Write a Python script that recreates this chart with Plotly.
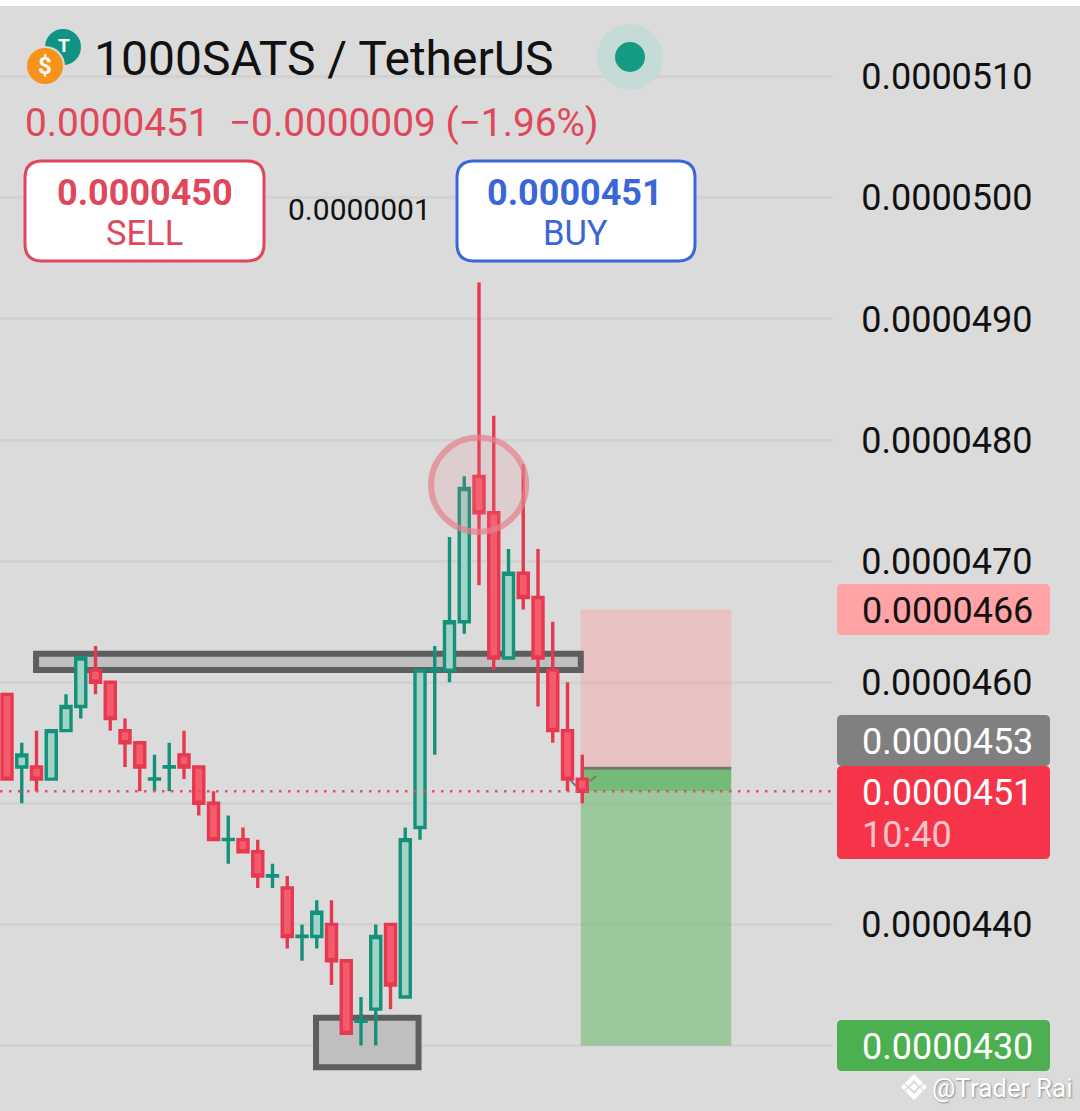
import plotly.graph_objects as go

# Candles, prices in units of 0.0000001 (the tick size), oldest first.
# Doji closes carry +0.02 so that plotly colours them green like the picture.
opens = [459, 453, 453, 452, 456, 458, 461, 460, 456, 455,
         452, 453, 454, 453, 450, 447, 447, 446, 444, 443,
         439, 439, 440, 437, 432, 433, 440, 434, 448, 461,
         461, 465, 477, 474, 462, 469, 467, 461, 456, 452]
highs = [459, 455, 456, 456, 459, 462, 463, 460, 457, 455,
         454, 455, 456, 453, 451, 449, 448, 447, 445, 444,
         440, 442, 442, 437, 434, 440, 440, 448, 461, 463,
         472, 477, 493, 482, 471, 478, 471, 465, 460, 454]
lows = [452, 450, 451, 452, 456, 457, 459, 456, 453, 451,
        451, 451, 452, 449, 447, 445, 446, 443, 443, 438,
        437, 438, 435, 431, 430, 430, 433, 434, 447, 454,
        460, 464, 468, 461, 462, 466, 458, 455, 451, 450]
closes = [452, 454, 452, 456, 458, 462, 460, 457, 455, 453,
          452.02, 453.02, 453, 450, 447, 447.02, 446, 444, 444.02, 439,
          439.02, 441, 437, 431, 432.02, 439, 435, 447, 461, 461.02,
          465, 476, 474, 462, 469, 467, 462, 456, 452, 451]
candle_index = list(range(len(opens)))

# Axis, the 430 label is the green tag further down
tick_values = [510, 500, 490, 480, 470, 460, 450, 440, 430]
tick_labels = ["0.0000510", "0.0000500", "0.0000490", "0.0000480", "0.0000470",
               "0.0000460", "", "0.0000440", ""]

# Trade levels
stop_price = 466
entry_price = 453
last_price = 451
target_price = 430

# Layout helpers, plot area is 833 px wide and the full 1111 px tall
W, H, PLOT_W = 1080, 1111, 833


def xp(px):
    return px / PLOT_W


def yp(py):
    return 1 - py / H


def rounded(x0, y0, x1, y1, r):
    return (f"M {xp(x0 + r)} {yp(y0)} L {xp(x1 - r)} {yp(y0)} Q {xp(x1)} {yp(y0)} {xp(x1)} {yp(y0 + r)} "
            f"L {xp(x1)} {yp(y1 - r)} Q {xp(x1)} {yp(y1)} {xp(x1 - r)} {yp(y1)} "
            f"L {xp(x0 + r)} {yp(y1)} Q {xp(x0)} {yp(y1)} {xp(x0)} {yp(y1 - r)} "
            f"L {xp(x0)} {yp(y0 + r)} Q {xp(x0)} {yp(y0)} {xp(x0 + r)} {yp(y0)} Z")


def poly(points):
    return "M " + " L ".join(f"{xp(x)} {yp(y)}" for x, y in points) + " Z"


def paper_shape(**kw):
    return dict(xref="paper", yref="paper", **kw)


def paper_circle(cx, cy, r, fill, line_color=None, line_width=0, layer="above"):
    return paper_shape(type="circle", x0=xp(cx - r), x1=xp(cx + r), y0=yp(cy + r), y1=yp(cy - r),
                       fillcolor=fill, line=dict(color=line_color or fill, width=line_width), layer=layer)


def tag(text, px, py, size, color, anchor="left", bold=False, family="Roboto"):
    label = f"<b>{text}</b>" if bold else text
    return dict(text=label, xref="paper", yref="paper", x=xp(px), y=yp(py), xanchor=anchor, yanchor="middle",
                showarrow=False, borderpad=0, borderwidth=0, font=dict(family=family, size=size, color=color))


BG = "#dbdbdb"
RED = "#e0475a"
BLUE = "#3a66d8"

fig = go.Figure(go.Candlestick(
    x=candle_index, open=opens, high=highs, low=lows, close=closes,
    increasing=dict(line=dict(color="#14917a", width=3.4), fillcolor="#a3d3c7"),
    decreasing=dict(line=dict(color="#e63950", width=3.4), fillcolor="#f45c6e"),
    whiskerwidth=0, hoverinfo="skip", showlegend=False,
))

shapes = [
    # risk / reward boxes
    dict(type="rect", x0=38.9, x1=49.1, y0=entry_price, y1=stop_price, layer="between",
         fillcolor="rgba(255,150,150,0.36)", line_width=0),
    dict(type="rect", x0=38.9, x1=49.1, y0=last_price, y1=entry_price, layer="between",
         fillcolor="rgba(76,175,80,0.72)", line_width=0),
    dict(type="rect", x0=38.9, x1=49.1, y0=target_price, y1=last_price, layer="between",
         fillcolor="rgba(76,175,80,0.44)", line_width=0),
    dict(type="line", x0=38.9, x1=49.1, y0=entry_price - 0.1, y1=entry_price - 0.1, layer="between",
         line=dict(color="#77776e", width=3)),
    # resistance and support boxes drawn by the author
    dict(type="rect", x0=1.97, x1=38.9, y0=461.0, y1=462.35, layer="between",
         fillcolor="#bfbfbf", line=dict(color="#5e5e5e", width=6)),
    dict(type="rect", x0=20.95, x1=27.9, y0=428.2, y1=432.3, layer="between",
         fillcolor="#bfbfbf", line=dict(color="#5e5e5e", width=6)),
    # last price line
    dict(type="line", xref="paper", x0=0, x1=1, y0=last_price, y1=last_price, layer="above",
         line=dict(color="#e0505f", width=2.5, dash="2.5px,6.5px")),
    # circle round the spike
    dict(type="circle", x0=28.75, x1=35.2, y0=472.4, y1=480.2, layer="above",
         fillcolor="rgba(240,130,140,0.15)", line=dict(color="rgba(228,130,140,0.7)", width=6)),
    # small gray tick marks by the last candle
    paper_shape(type="path", path=f"M {xp(570)} {yp(780)} L {xp(576)} {yp(786)}", line=dict(color="#777777", width=2)),
    paper_shape(type="path", path=f"M {xp(590)} {yp(781)} L {xp(596)} {yp(776)}", line=dict(color="#777777", width=2)),
    # price tags
    paper_shape(type="path", path=rounded(837, 584, 1050, 635, 5), fillcolor="#ffa3a6", line_width=0),
    paper_shape(type="path", path=rounded(837, 715, 1050, 766, 5), fillcolor="#808080", line_width=0),
    paper_shape(type="path", path=rounded(837, 766, 1050, 859, 5), fillcolor="#f63449", line_width=0),
    paper_shape(type="path", path=rounded(837, 1020, 1050, 1071, 5), fillcolor="#4caf50", line_width=0),
    # sell / buy buttons
    paper_shape(type="path", path=rounded(25, 161, 264, 261, 17), fillcolor="white", line=dict(color=RED, width=3)),
    paper_shape(type="path", path=rounded(457, 161, 695, 261, 17), fillcolor="white", line=dict(color=BLUE, width=3)),
    # coin icons and live dot
    paper_circle(63, 47, 18, "#0f9384"),
    paper_circle(45, 66, 20, BG),
    paper_circle(45, 66, 18, "#f7931a"),
    paper_circle(630, 57, 33, "#c4dbd7"),
    paper_circle(630, 57, 15, "#149c82"),
    # binance mark of the watermark
    paper_shape(type="path", path=poly([(914, 1074), (923, 1083), (920, 1086), (914, 1080), (908, 1086), (905, 1083)]),
                fillcolor="white", line_width=0),
    paper_shape(type="path", path=poly([(914, 1100), (923, 1091), (920, 1088), (914, 1094), (908, 1088), (905, 1091)]),
                fillcolor="white", line_width=0),
    paper_shape(type="path", path=poly([(914, 1083), (918, 1087), (914, 1091), (910, 1087)]),
                fillcolor="white", line_width=0),
    paper_shape(type="path", path=poly([(904, 1084), (907, 1087), (904, 1090), (901, 1087)]),
                fillcolor="white", line_width=0),
    paper_shape(type="path", path=poly([(924, 1084), (927, 1087), (924, 1090), (921, 1087)]),
                fillcolor="white", line_width=0),
    # white strip along the top of the screenshot
    paper_shape(type="rect", x0=0, x1=W / PLOT_W, y0=yp(6), y1=1, fillcolor="white", line_width=0),
]

annotations = [
    tag("1000SATS / TetherUS", 94, 58, 48, "#111111"),
    tag("0.0000451  \u22120.0000009 (\u22121.96%)", 25, 122, 38.8, RED),
    tag("0.0000450", 144.5, 193, 36, RED, anchor="center", bold=True),
    tag("SELL", 144.5, 233, 34.5, RED, anchor="center"),
    tag("0.0000001", 359.5, 210, 30, "#111111", anchor="center"),
    tag("0.0000451", 575, 193, 36, BLUE, anchor="center", bold=True),
    tag("BUY", 575, 233, 34.5, BLUE, anchor="center"),
    tag("T", 64, 46, 19, "white", anchor="center", bold=True),
    tag("$", 45, 66, 24, "white", anchor="center", bold=True),
    tag("0.0000466", 862, 611, 36, "#111111"),
    tag("0.0000453", 862, 742, 36, "white"),
    tag("0.0000451", 862, 793, 36, "white"),
    tag("10:40", 862, 835, 36, "#ffc4c9"),
    tag("0.0000430", 862, 1047, 36, "white"),
    tag("@Trader Rai", 932, 1088, 26, "white"),
]
annotations[-1]["font"]["shadow"] = "1px 1px 2px #888888"

fig.update_layout(
    width=W, height=H,
    margin=dict(l=0, r=W - PLOT_W, t=0, b=0, pad=0),
    paper_bgcolor=BG, plot_bgcolor=BG,
    boxgap=0.32, boxgroupgap=0,
    showlegend=False,
    shapes=shapes,
    annotations=annotations,
    xaxis=dict(range=[-0.4746, 56], visible=False, rangeslider=dict(visible=False), fixedrange=True),
    yaxis=dict(
        range=[424.59, 516.34], side="right", tickmode="array", tickvals=tick_values, ticktext=tick_labels,
        ticks="outside", ticklen=20, tickcolor="rgba(0,0,0,0)", showline=False, zeroline=False,
        showgrid=True, gridcolor="#d2d2d2", gridwidth=3,
        tickfont=dict(family="Roboto", size=36, color="#111111"),
    ),
)

# Save the page
fig.write_html("out.html", config={"displayModeBar": False}, post_script="document.body.style.margin='0';")
